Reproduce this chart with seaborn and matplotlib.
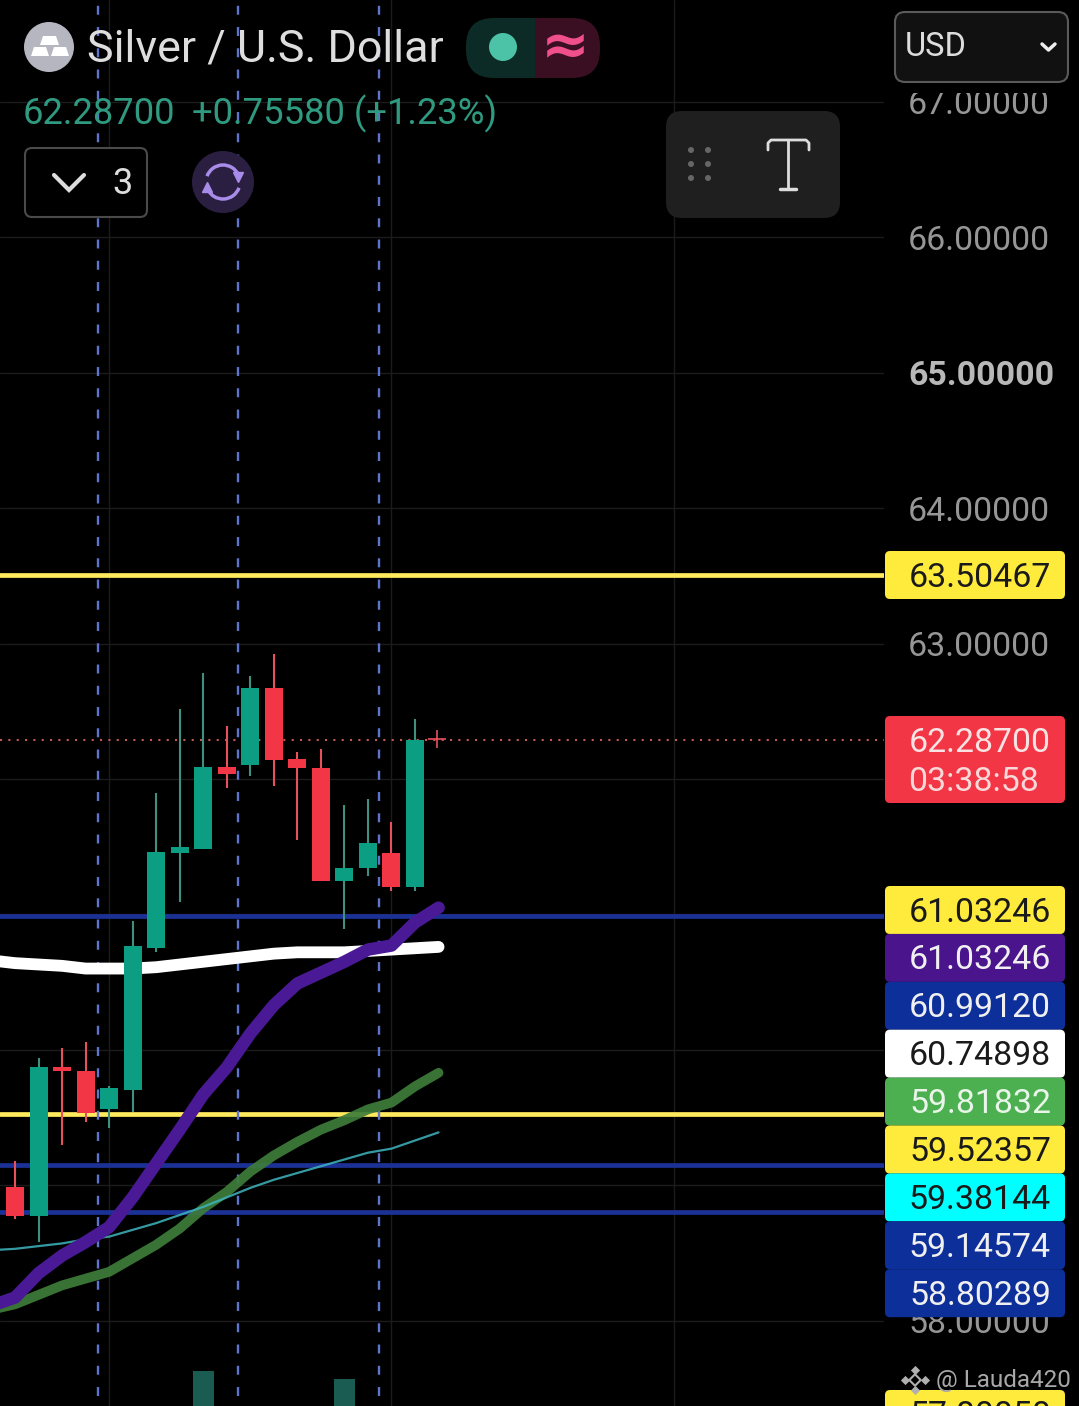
import matplotlib
matplotlib.use("Agg")
import matplotlib.pyplot as plt
import seaborn as sns
from matplotlib.patches import FancyBboxPatch, Circle, Polygon, Arc, Rectangle

# candles
candle_index = list(range(18))
open_prices = [58.99, 58.77, 59.87, 59.84, 59.56, 59.70, 60.75, 61.45, 61.48, 62.09, 62.10, 62.67, 62.15, 62.08, 61.25, 61.34, 61.45, 61.20]
high_prices = [59.18, 59.94, 60.01, 60.06, 59.73, 60.95, 61.90, 62.52, 62.78, 62.39, 62.76, 62.92, 62.20, 62.22, 61.81, 61.85, 61.68, 62.44]
low_prices = [58.75, 58.58, 59.30, 59.47, 59.42, 59.54, 60.72, 61.09, 61.48, 61.93, 62.02, 61.95, 61.55, 61.25, 60.89, 61.28, 61.17, 61.17]
close_prices = [58.77, 59.87, 59.84, 59.53, 59.72, 60.77, 61.46, 61.50, 62.09, 62.04, 62.67, 62.14, 62.08, 61.25, 61.34, 61.53, 61.20, 62.287]

# moving averages
ma_index = list(range(-1, 19))
ma_white = [60.66, 60.64, 60.63, 60.62, 60.60, 60.60, 60.60, 60.61, 60.63, 60.65, 60.67, 60.69, 60.71, 60.72, 60.72, 60.72, 60.73, 60.74, 60.75, 60.76]
ma_cyan = [58.52, 58.53, 58.55, 58.57, 58.60, 58.62, 58.67, 58.72, 58.78, 58.84, 58.91, 58.98, 59.04, 59.09, 59.14, 59.19, 59.24, 59.27, 59.33, 59.39]
ma_green = [58.08, 58.12, 58.19, 58.26, 58.31, 58.36, 58.46, 58.56, 58.68, 58.83, 58.95, 59.10, 59.22, 59.32, 59.41, 59.48, 59.56, 59.61, 59.73, 59.83]
ma_purple = [58.11, 58.17, 58.35, 58.48, 58.58, 58.69, 58.91, 59.16, 59.41, 59.67, 59.87, 60.12, 60.33, 60.49, 60.57, 60.65, 60.74, 60.77, 60.94, 61.05]

# horizontal levels and session breaks
yellow_levels = [63.50467, 59.52357]
blue_levels = [60.99120, 59.14574, 58.80289]
last_price = 62.287
session_breaks = [3.53, 9.48, 15.47]
grid_columns = [4, 16, 28]
price_ticks = [58, 59, 60, 61, 62, 63, 64, 65, 66, 67]

# the only volume bars that reach into view
volume_index = [8, 14]
volume_values = [35, 27]

# price tags on the right
stack_labels = ["61.03246", "61.03246", "60.99120", "60.74898", "59.81832", "59.52357", "59.38144", "59.14574", "58.80289"]
stack_colors = ["#ffeb3b", "#4a148c", "#0d2f9a", "#ffffff", "#4caf50", "#ffeb3b", "#00ffff", "#0d2f9a", "#0d2f9a"]
stack_text = ["#1a1a1a", "#f0f0f0", "#f0f0f0", "#1a1a1a", "#eaf5ea", "#1a1a1a", "#1a1a1a", "#f0f0f0", "#f0f0f0"]

UP = "#0b9e82"
DOWN = "#f23645"
UP_WICK = "#3f9080"
DOWN_WICK = "#e8505c"

sns.set_theme(style="dark", rc={"axes.facecolor": "black", "figure.facecolor": "black"})
plt.rcParams["font.family"] = ["Roboto", "DejaVu Sans"]

fig = plt.figure(figsize=(10.79, 14.06), dpi=100)
ax = fig.add_axes([0, 0, 884 / 1079, 1])
ax.set_xlim(-0.6375, 36.93)
ax.set_ylim(57.3692, 67.7533)

# levels
for level in yellow_levels:
    ax.axhline(level, color="#ffe95c", linewidth=3.4, zorder=1.2)
for level in blue_levels:
    ax.axhline(level, color="#1c3196", linewidth=3.4, zorder=1.2)
ax.axhline(last_price, color="#c05a55", linewidth=1.5, linestyle=(0, (1, 3)), zorder=1.1)
for brk in session_breaks:
    ax.axvline(brk, ymin=10 / 1406, color="#5f74cc", linewidth=1.7, linestyle=(0, (3.8, 5.2)), zorder=1.3)

# moving averages
sns.lineplot(x=ma_index, y=ma_white, color="white", linewidth=8.5, solid_capstyle="round", zorder=2, ax=ax)
sns.lineplot(x=ma_index, y=ma_cyan, color="#3fb5c0", linewidth=1.6, alpha=0.85, zorder=4.1, ax=ax)
sns.lineplot(x=ma_index, y=ma_green, color="#3e7d3a", linewidth=7, alpha=0.92, solid_capstyle="round", zorder=4, ax=ax)
sns.lineplot(x=ma_index, y=ma_purple, color="#4a1a96", linewidth=9, solid_capstyle="round", zorder=4.2, ax=ax)

# candles
for i, o, h, l, c in zip(candle_index, open_prices, high_prices, low_prices, close_prices):
    rising = c >= o
    ax.vlines(i, l, h, color=UP_WICK if rising else DOWN_WICK, linewidth=1.5, zorder=3)
    ax.bar(i, abs(c - o), bottom=min(o, c), width=0.765, color=UP if rising else DOWN, linewidth=0, zorder=3.1)

ax.plot([17.93], [last_price + 0.01], marker="+", markersize=13, markeredgewidth=1.2, color="#e8505c", zorder=3.2)

# volume on its own scale
vol_ax = ax.twinx()
vol_ax.set_ylim(0, 1406)
vol_ax.bar(volume_index, volume_values, width=0.89, color="#1a5c52", linewidth=0)
vol_ax.set_yticks([])
vol_ax.grid(False)
for side in vol_ax.spines.values():
    side.set_visible(False)

# grid and price axis, after twinx because it moves the ticks back to the left
ax.set_yticks(price_ticks)
ax.set_yticklabels(["%.5f" % p for p in price_ticks])
ax.yaxis.tick_right()
ax.tick_params(axis="y", length=0, pad=17.3, labelsize=24.4, labelcolor="#969696")
ax.set_xticks(grid_columns)
ax.set_xticklabels([])
ax.tick_params(axis="x", length=0)
ax.grid(True, color="#1b1b1b", linewidth=1)
ax.set_axisbelow(True)
for side in ax.spines.values():
    side.set_visible(False)
for lab in ax.get_yticklabels():
    if lab.get_text().startswith("65"):
        lab.set_fontweight("bold")
        lab.set_color("#b8b8b8")

# everything that sits on top of the chart, in screen pixels
ui = fig.add_axes([0, 0, 1, 1], zorder=5)
ui.set_xlim(0, 1079)
ui.set_ylim(1406, 0)
ui.axis("off")
ui.patch.set_alpha(0)


def box(x0, y0, x1, y1, face, edge="none", radius=6, lw=0):
    ui.add_patch(FancyBboxPatch((x0, y0), x1 - x0, y1 - y0, boxstyle="round,pad=0,rounding_size=%g" % radius,
                                facecolor=face, edgecolor=edge, linewidth=lw))


# the top of the price scale is cut by the header
ui.add_patch(Rectangle((885, 0), 194, 93, facecolor="black", edgecolor="none"))

# tags
box(885, 551, 1065, 599, "#ffeb3b", radius=5)
ui.text(980, 578, "63.50467", color="#1a1a1a", fontsize=24.4, ha="center", va="center")
box(885, 716, 1065, 803, DOWN, radius=5)
ui.text(980, 743, "62.28700", color="#f7e3e3", fontsize=24.4, ha="center", va="center")
ui.text(974, 782, "03:38:58", color="#f7d9d9", fontsize=24.4, ha="center", va="center")
for n, (lab, col, tcol) in enumerate(zip(stack_labels, stack_colors, stack_text)):
    cy = 910 + 47.9 * n
    box(885, cy - 24, 1065, cy + 24, col, radius=5)
    ui.text(980, cy + 2.5, lab, color=tcol, fontsize=24.4, ha="center", va="center")
box(885, 1390, 1065, 1440, "#ffeb3b", radius=5)
ui.text(980, 1416, "57.80050", color="#1a1a1a", fontsize=24.4, ha="center", va="center", clip_on=True)

# header
ui.add_patch(Circle((49, 47), 25, facecolor="#b6b6c0", edgecolor="none"))
ui.add_patch(Polygon([(43, 36), (56, 36), (59, 45), (40, 45)], facecolor="white", edgecolor="none"))
ui.add_patch(Polygon([(34, 47), (46, 47), (49, 56), (31, 56)], facecolor="white", edgecolor="none"))
ui.add_patch(Polygon([(54, 47), (66, 47), (69, 56), (51, 56)], facecolor="white", edgecolor="none"))
ui.text(87, 49, "Silver / U.S. Dollar", color="#dedede", fontsize=32.3, ha="left", va="center")
ui.text(23, 114, "62.28700", color="#2f9a80", fontsize=26.2, ha="left", va="center")
ui.text(192, 114, "+0.75580 (+1.23%)", color="#2f9a80", fontsize=26.2, ha="left", va="center")

# status pill
box(466, 18, 570, 78, "#0c2b27", radius=28)
box(530, 18, 600, 78, "#3a0f22", radius=28)
ui.add_patch(Rectangle((510, 18), 25, 60, facecolor="#0c2b27", edgecolor="none"))
ui.add_patch(Rectangle((535, 18), 25, 60, facecolor="#3a0f22", edgecolor="none"))
ui.add_patch(Circle((503, 47), 14, facecolor="#4cc2a6", edgecolor="none"))
ui.text(565, 47, "\u2248", color="#ef4f8a", fontsize=42, fontweight="bold", family="DejaVu Sans", ha="center", va="center")

# collapsed indicators
box(25, 148, 147, 217, "black", edge="#4a4a4a", radius=7, lw=1.5)
ui.plot([54, 69, 84], [175, 190, 175], color="#dddddd", linewidth=3, solid_capstyle="round", solid_joinstyle="miter")
ui.text(122, 184, "3", color="#dddddd", fontsize=26, ha="center", va="center")

# refresh button
ui.add_patch(Circle((223, 182), 31, facecolor="#2a1f40", edgecolor="none"))
ui.add_patch(Arc((223, 182), 34, 34, theta1=200, theta2=335, color="#a98bea", linewidth=2.5))
ui.add_patch(Arc((223, 182), 34, 34, theta1=20, theta2=155, color="#a98bea", linewidth=2.5))
ui.plot([238], [177], marker="v", markersize=7, color="#a98bea")
ui.plot([207], [187], marker="^", markersize=7, color="#a98bea")

# text tool card
box(666, 111, 840, 218, "#1f1f1f", radius=16)
for dx in [691, 708]:
    for dy in [150, 164, 178]:
        ui.add_patch(Circle((dx, dy), 3, facecolor="#666666", edgecolor="none"))
ui.plot([768, 768, 771, 806, 809, 809], [150, 143, 140, 140, 143, 150], color="#dddddd", linewidth=2)
ui.plot([788, 788], [140, 189], color="#dddddd", linewidth=2)
ui.plot([780, 796], [189, 189], color="#dddddd", linewidth=2.5)

# currency box
box(895, 12, 1068, 82, "#111111", edge="#5a5a5a", radius=10, lw=1.5)
ui.text(905, 47, "USD", color="#dddddd", fontsize=23.5, ha="left", va="center")
ui.plot([1042, 1048.5, 1055], [44, 50, 44], color="#eeeeee", linewidth=2.5, solid_capstyle="round")

# watermark
ui.text(936, 1381, "@ Lauda420", color="#a8a8a8", fontsize=17.5, ha="left", va="center")
ui.scatter([915, 905, 925, 915], [1370, 1380, 1380, 1390], marker="D", s=22, color="#b0b0b0", linewidth=0)
ui.scatter([915], [1380], marker="D", s=34, facecolor="none", edgecolor="#b0b0b0", linewidth=1.5)

fig.savefig("out.png", dpi=100, facecolor="black")
